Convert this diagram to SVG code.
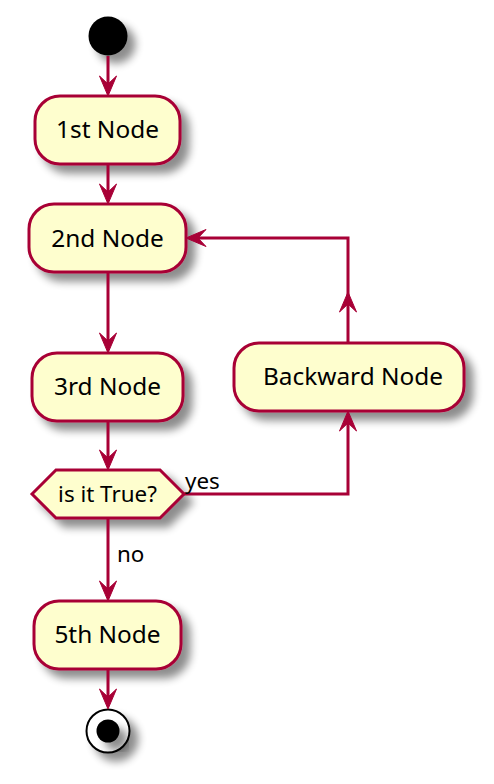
<svg xmlns="http://www.w3.org/2000/svg" width="494" height="784" viewBox="0 0 494 784">
<defs>
<filter id="sh" x="-30%" y="-30%" width="170%" height="170%">
<feGaussianBlur in="SourceAlpha" stdDeviation="4"/>
<feOffset dx="8" dy="8" result="b"/>
<feComponentTransfer><feFuncA type="linear" slope="0.45"/></feComponentTransfer>
<feMerge><feMergeNode/><feMergeNode in="SourceGraphic"/></feMerge>
</filter>
<path id="ah" d="M0,0 L-8.5,-20 L0,-12 L8.5,-20 Z"/>
</defs>
<style>
.n{fill:#FEFECE;stroke:#A80036;stroke-width:3}
.t{font-family:"Noto Sans","Open Sans",sans-serif;font-size:24.4px;fill:#000}
.s{font-family:"Noto Sans","Open Sans",sans-serif;font-size:22.4px;fill:#000}
.l{fill:none;stroke:#A80036;stroke-width:3}
.a{fill:#A80036;stroke:#A80036;stroke-width:1}
</style>
<rect width="494" height="784" fill="#FFFFFF"/>
<g id="start"><circle cx="108" cy="36" r="19.5" fill="#000" filter="url(#sh)"/></g>
<g id="n1"><rect class="n" x="35" y="96" width="145" height="68" rx="25" filter="url(#sh)"/><text class="t" x="107.5" y="138" text-anchor="middle">1st Node</text></g>
<g id="n2"><rect class="n" x="29" y="204" width="157" height="68" rx="25" filter="url(#sh)"/><text class="t" x="107.5" y="246.5" text-anchor="middle">2nd Node</text></g>
<g id="n3"><rect class="n" x="32" y="353" width="151" height="68" rx="25" filter="url(#sh)"/><text class="t" x="107.5" y="395" text-anchor="middle">3rd Node</text></g>
<g id="back"><rect class="n" x="234" y="343" width="230" height="68" rx="25" filter="url(#sh)"/><text class="t" x="263" y="385">Backward Node</text></g>
<g id="dec"><polygon class="n" points="32,494 56,470 160,470 184,494 160,518 56,518" filter="url(#sh)"/><text class="s" x="107.5" y="502" text-anchor="middle">is it True?</text></g>
<g id="n5"><rect class="n" x="34" y="601" width="147" height="68" rx="25" filter="url(#sh)"/><text class="t" x="107.5" y="643" text-anchor="middle">5th Node</text></g>
<g id="end"><circle cx="108" cy="731" r="21.5" fill="#FFFFFF" stroke="#000" stroke-width="2" filter="url(#sh)"/><circle cx="108" cy="731" r="11.5" fill="#000" filter="url(#sh)"/></g>
<g id="connectors">
<line class="l" x1="108" y1="56" x2="108" y2="90"/><use href="#ah" class="a" transform="translate(108,96)"/>
<line class="l" x1="108" y1="164" x2="108" y2="198"/><use href="#ah" class="a" transform="translate(108,204)"/>
<line class="l" x1="108" y1="272" x2="108" y2="347"/><use href="#ah" class="a" transform="translate(108,353)"/>
<line class="l" x1="108" y1="421" x2="108" y2="464"/><use href="#ah" class="a" transform="translate(108,470)"/>
<line class="l" x1="108" y1="518" x2="108" y2="595"/><use href="#ah" class="a" transform="translate(108,601)"/>
<line class="l" x1="108" y1="669" x2="108" y2="703"/><use href="#ah" class="a" transform="translate(108,709)"/>
<polyline class="l" points="184,494 348,494 348,417"/><use href="#ah" class="a" transform="translate(348,411) rotate(180)"/>
<polyline class="l" points="348,343 348,238 192,238"/><use href="#ah" class="a" transform="translate(348,292) rotate(180)"/><use href="#ah" class="a" transform="translate(186,238) rotate(90)"/>
<text class="s" x="185" y="489">yes</text>
<text class="s" x="117" y="562">no</text>
</g>
</svg>
